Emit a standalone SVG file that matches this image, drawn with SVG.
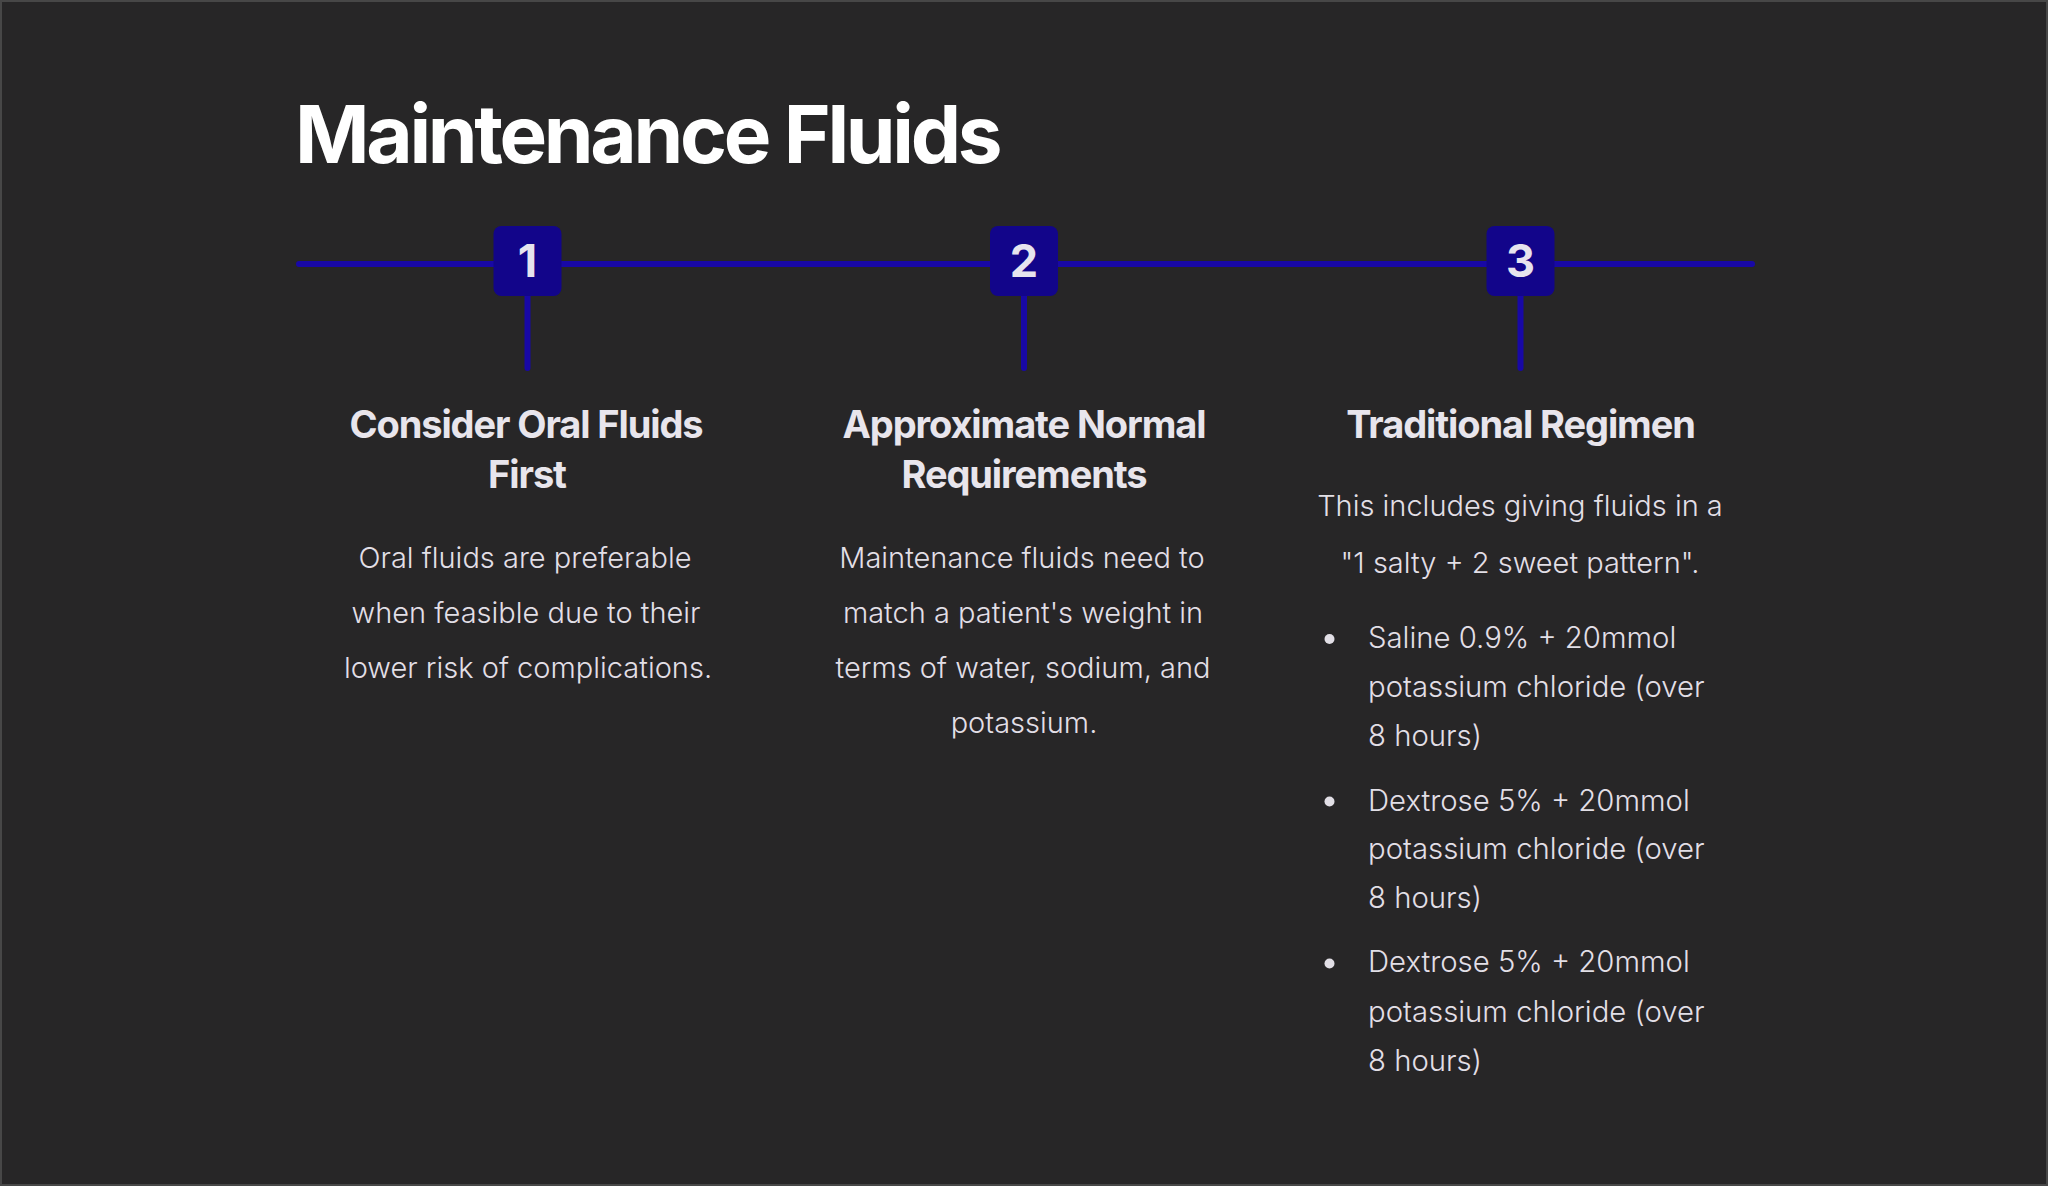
<svg xmlns="http://www.w3.org/2000/svg" width="2048" height="1186" viewBox="0 0 2048 1186">
<style>
.title{font-family:Inter,"Noto Sans",sans-serif;font-weight:700;font-size:80px;fill:#ffffff;letter-spacing:-3.3px}
.num{font-family:Inter,"Noto Sans",sans-serif;font-weight:700;font-size:45px;fill:#e6e4ee;text-anchor:middle}
.head{font-family:Inter,"Noto Sans",sans-serif;font-weight:700;font-size:38px;fill:#e8e5ec;text-anchor:middle;letter-spacing:-1.1px}
.body{font-family:Inter,"Noto Sans",sans-serif;font-weight:300;font-size:29px;fill:#e2dfe6;text-anchor:middle}
.li{font-family:Inter,"Noto Sans",sans-serif;font-weight:300;font-size:29.3px;fill:#e2dfe6}
.box{fill:#12058a}
.ln{stroke:#1808a6;stroke-width:6;stroke-linecap:round;fill:none}
.dot{fill:#e2dfe6}
</style>
<rect x="0" y="0" width="2048" height="1186" fill="#272627"/>
<rect x="1" y="1" width="2046" height="1184" fill="none" stroke="#474747" stroke-width="2"/>
<text class="title" x="295" y="163">Maintenance Fluids</text>
<g id="connectors">
<line class="ln" x1="299" y1="264" x2="1752" y2="264"/>
<line class="ln" x1="527.5" y1="290" x2="527.5" y2="368"/>
<line class="ln" x1="1024" y1="290" x2="1024" y2="368"/>
<line class="ln" x1="1520.5" y1="290" x2="1520.5" y2="368"/>
</g>
<g id="node1">
<rect class="box" x="493.5" y="226" width="68" height="70" rx="8"/>
<text class="num" x="527.5" y="277">1</text>
<text class="head" x="526" y="438">Consider Oral Fluids</text>
<text class="head" x="527" y="488">First</text>
<text class="body" x="525" y="568">Oral fluids are preferable</text>
<text class="body" x="526" y="623">when feasible due to their</text>
<text class="body" x="528" y="678">lower risk of complications.</text>
</g>
<g id="node2">
<rect class="box" x="990" y="226" width="68" height="70" rx="8"/>
<text class="num" x="1024" y="277">2</text>
<text class="head" x="1024" y="438">Approximate Normal</text>
<text class="head" x="1024" y="488">Requirements</text>
<text class="body" x="1022" y="568">Maintenance fluids need to</text>
<text class="body" x="1023" y="623">match a patient's weight in</text>
<text class="body" x="1023" y="678">terms of water, sodium, and</text>
<text class="body" x="1024" y="733">potassium.</text>
</g>
<g id="node3">
<rect class="box" x="1486.5" y="226" width="68" height="70" rx="8"/>
<text class="num" x="1520.5" y="277">3</text>
<text class="head" x="1520.5" y="438">Traditional Regimen</text>
<text class="body" x="1520" y="516">This includes giving fluids in a</text>
<text class="body" x="1520" y="572.5">"1 salty + 2 sweet pattern".</text>
<circle class="dot" cx="1329.5" cy="639" r="5"/>
<text class="li" x="1368" y="648.3">Saline 0.9% + 20mmol</text>
<text class="li" x="1368" y="697">potassium chloride (over</text>
<text class="li" x="1368" y="745.7">8 hours)</text>
<circle class="dot" cx="1329.5" cy="801.5" r="5"/>
<text class="li" x="1368" y="810.7">Dextrose 5% + 20mmol</text>
<text class="li" x="1368" y="859.3">potassium chloride (over</text>
<text class="li" x="1368" y="908.3">8 hours)</text>
<circle class="dot" cx="1329.5" cy="963.5" r="5"/>
<text class="li" x="1368" y="972.3">Dextrose 5% + 20mmol</text>
<text class="li" x="1368" y="1021.7">potassium chloride (over</text>
<text class="li" x="1368" y="1070.7">8 hours)</text>
</g>
</svg>
